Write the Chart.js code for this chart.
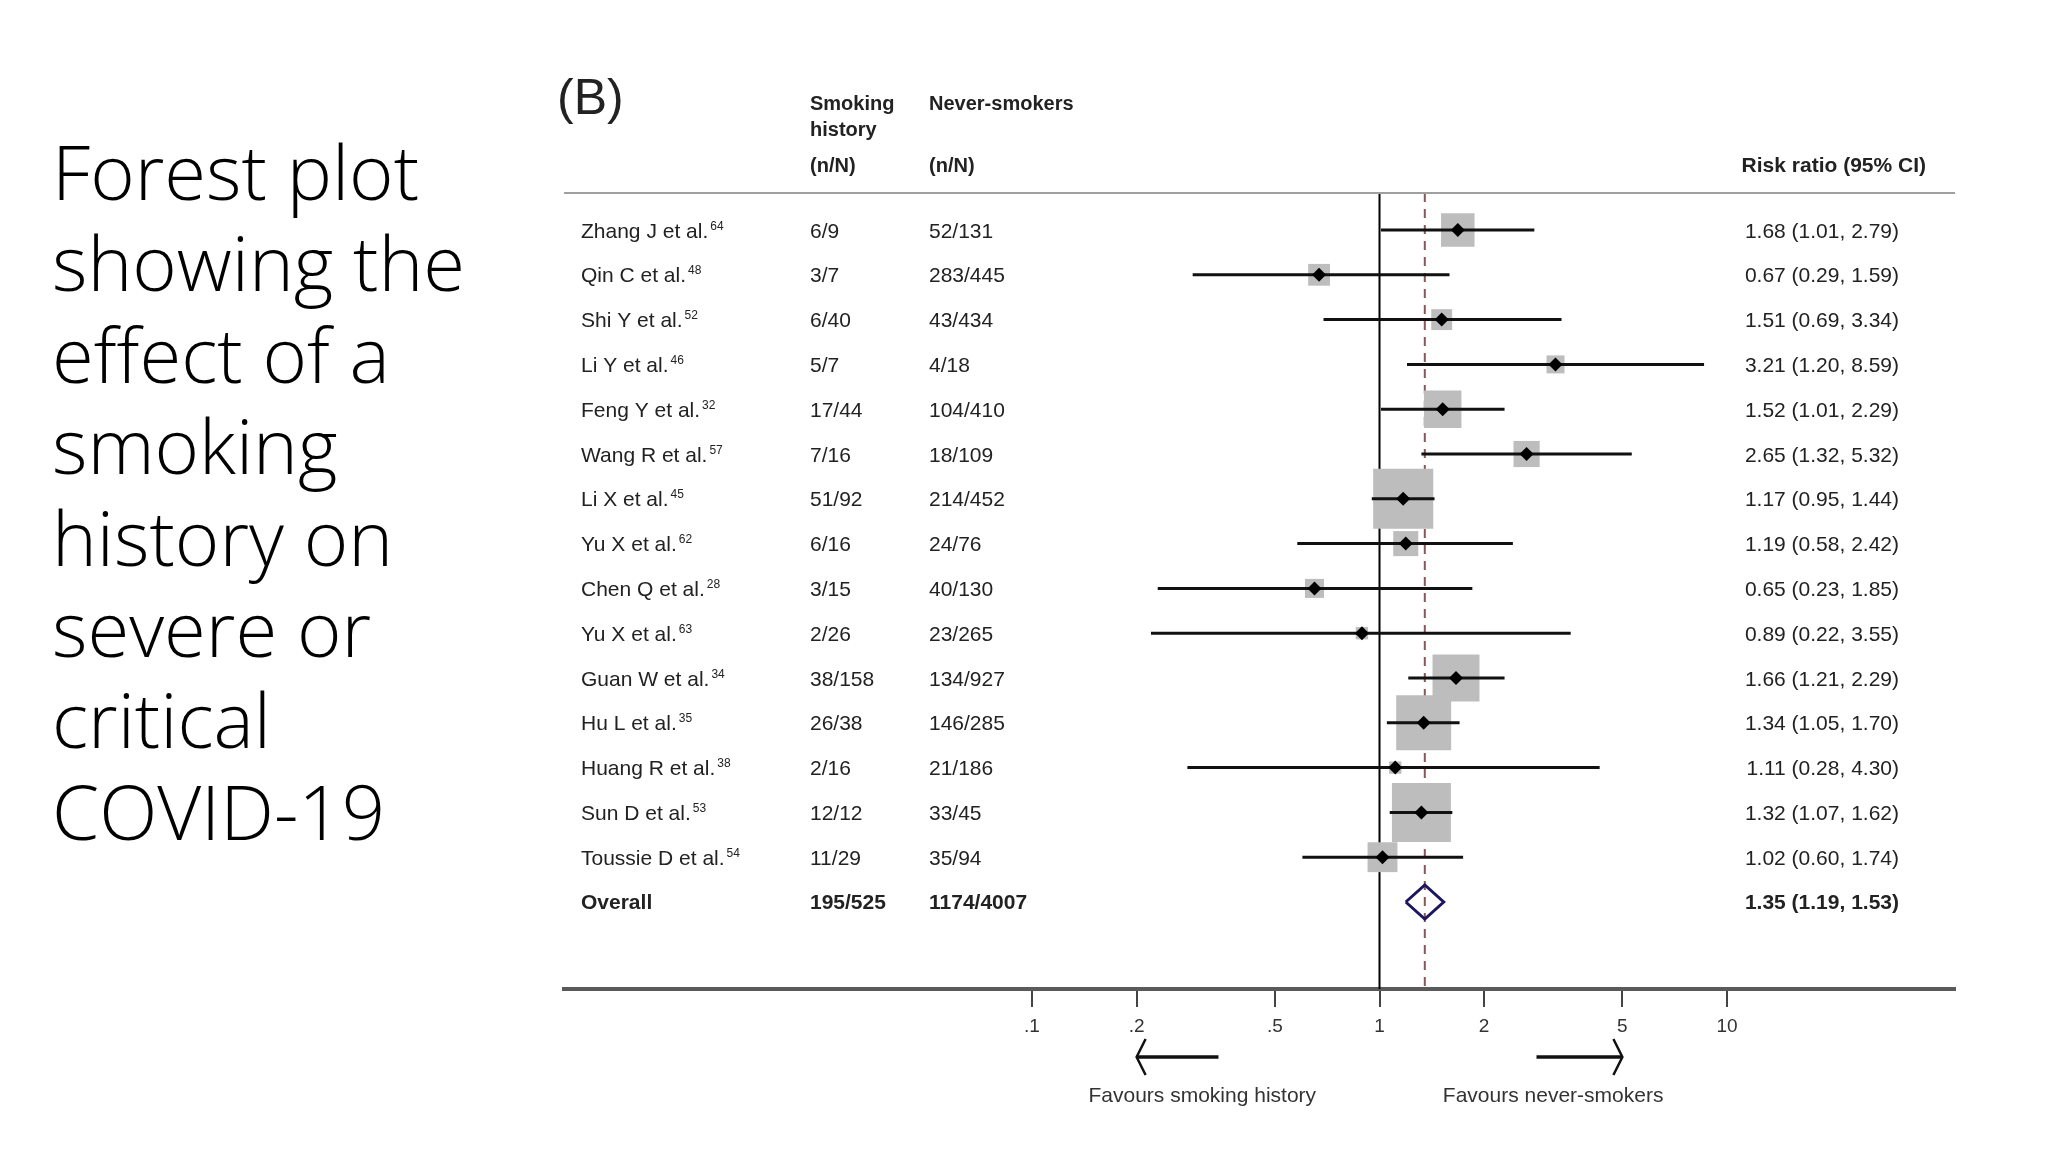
<!DOCTYPE html>
<html>
<head>
<meta charset="utf-8">
<script src="https://cdn.jsdelivr.net/npm/chart.js@4.4.1/dist/chart.umd.min.js"></script>
<style>
  html, body { margin: 0; padding: 0; background: #fff; }
  #wrap { position: relative; width: 2048px; height: 1152px; overflow: hidden; }
  #c { position: absolute; left: 0; top: 0; }
  #side {
    position: absolute; left: 52px; top: 125px;
    font-family: "Open Sans", sans-serif; font-weight: 300;
    font-size: 76px; line-height: 91.4px; color: #000; white-space: nowrap;
  }
</style>
</head>
<body>
<div id="wrap">
  <canvas id="c" width="2048" height="1152"></canvas>
  <div id="side">Forest plot<br>showing the<br>effect of a<br>smoking<br>history on<br>severe or<br>critical<br>COVID-19</div>
</div>
<script>
// ---------------- data ----------------
const studies = ['Zhang J et al.', 'Qin C et al.', 'Shi Y et al.', 'Li Y et al.', 'Feng Y et al.',
  'Wang R et al.', 'Li X et al.', 'Yu X et al.', 'Chen Q et al.', 'Yu X et al.',
  'Guan W et al.', 'Hu L et al.', 'Huang R et al.', 'Sun D et al.', 'Toussie D et al.'];
const refs = ['64', '48', '52', '46', '32', '57', '45', '62', '28', '63', '34', '35', '38', '53', '54'];
const smokingNn = ['6/9', '3/7', '6/40', '5/7', '17/44', '7/16', '51/92', '6/16', '3/15', '2/26',
  '38/158', '26/38', '2/16', '12/12', '11/29'];
const neverNn = ['52/131', '283/445', '43/434', '4/18', '104/410', '18/109', '214/452', '24/76',
  '40/130', '23/265', '134/927', '146/285', '21/186', '33/45', '35/94'];
const riskRatio = [1.68, 0.67, 1.51, 3.21, 1.52, 2.65, 1.17, 1.19, 0.65, 0.89, 1.66, 1.34, 1.11, 1.32, 1.02];
const ciLow = [1.01, 0.29, 0.69, 1.20, 1.01, 1.32, 0.95, 0.58, 0.23, 0.22, 1.21, 1.05, 0.28, 1.07, 0.60];
const ciHigh = [2.79, 1.59, 3.34, 8.59, 2.29, 5.32, 1.44, 2.42, 1.85, 3.55, 2.29, 1.70, 4.30, 1.62, 1.74];
// estimated study weights (%)
const weights = [5.9, 2.5, 2.3, 1.7, 7.4, 3.6, 19.0, 3.3, 1.9, 0.8, 11.6, 15.9, 0.8, 18.3, 4.7];
const overallLabel = 'Overall';
const overallSmoking = '195/525';
const overallNever = '1174/4007';
const overallRR = 1.35, overallLow = 1.19, overallHigh = 1.53;
const xTicks = [0.1, 0.2, 0.5, 1, 2, 5, 10];
const xTickLabels = ['.1', '.2', '.5', '1', '2', '5', '10'];

// ---------------- layout helpers ----------------
const nRows = studies.length;
const overallRow = nRows + 1;
const Y_MIN = 0.174, Y_MAX = 17.942;
const X_MIN = 0.0045, X_MAX = 45.3;
const rowOf = i => i + 1;
const fmt = (r, l, h) => r.toFixed(2) + ' (' + l.toFixed(2) + ', ' + h.toFixed(2) + ')';
const FONT = '"Liberation Sans", Arial, sans-serif';

const datasets = [];
// reference line at RR = 1
datasets.push({
  type: 'line', data: [{x: 1, y: Y_MIN}, {x: 1, y: Y_MAX}],
  borderColor: '#000', borderWidth: 2, pointRadius: 0, order: 30
});
// dashed line at overall estimate
datasets.push({
  type: 'line', data: [{x: overallRR, y: Y_MIN}, {x: overallRR, y: Y_MAX}],
  borderColor: '#8a5656', borderWidth: 2, borderDash: [9, 7], pointRadius: 0, order: 29
});
// weight boxes
datasets.push({
  type: 'scatter',
  data: riskRatio.map((v, i) => ({x: v, y: rowOf(i)})),
  pointStyle: 'rect',
  pointRadius: weights.map(w => Math.sqrt(w * 190) / Math.SQRT2),
  backgroundColor: '#bdbdbd', borderWidth: 0, order: 20
});
// confidence intervals
riskRatio.forEach((v, i) => {
  datasets.push({
    type: 'line', data: [{x: ciLow[i], y: rowOf(i)}, {x: ciHigh[i], y: rowOf(i)}],
    borderColor: '#111', borderWidth: 3, pointRadius: 0, order: 10
  });
});
// point estimates
datasets.push({
  type: 'scatter',
  data: riskRatio.map((v, i) => ({x: v, y: rowOf(i)})),
  pointStyle: 'rectRot', pointRadius: 7,
  backgroundColor: '#000', borderWidth: 0, order: 1
});
// overall diamond
const dh = 0.38;
datasets.push({
  type: 'line',
  data: [{x: overallLow, y: overallRow}, {x: overallRR, y: overallRow - dh},
         {x: overallHigh, y: overallRow}, {x: overallRR, y: overallRow + dh},
         {x: overallLow, y: overallRow}],
  borderColor: '#1c1560', borderWidth: 3, pointRadius: 0, fill: false, tension: 0, order: 2
});

const textPlugin = {
  id: 'forestText',
  afterDraw(chart) {
    const ctx = chart.ctx;
    const ys = chart.scales.y, xs = chart.scales.x;
    const ca = chart.chartArea;
    const py = v => ys.getPixelForValue(v);
    const colName = 581, colSmk = 810, colNev = 929, colRR = 1899, colHdrR = 1926;
    ctx.save();
    // header separator
    ctx.strokeStyle = '#a0a0a0'; ctx.lineWidth = 2;
    ctx.beginPath(); ctx.moveTo(ca.left, ca.top); ctx.lineTo(ca.right, ca.top); ctx.stroke();

    ctx.fillStyle = '#222';
    ctx.textBaseline = 'alphabetic';
    // panel label
    ctx.font = '50px ' + FONT; ctx.textAlign = 'left';
    ctx.fillText('(B)', 557, py(-1.55) - 2);
    // headers
    ctx.font = 'bold 20px ' + FONT;
    ctx.fillText('Smoking', colSmk, py(-1.83) + 7);
    ctx.fillText('history', colSmk, py(-1.25) + 7);
    ctx.fillText('(n/N)', colSmk, py(-0.45) + 7);
    ctx.fillText('Never-smokers', colNev, py(-1.83) + 7);
    ctx.fillText('(n/N)', colNev, py(-0.45) + 7);
    ctx.textAlign = 'right';
    ctx.font = 'bold 21px ' + FONT;
    ctx.fillText('Risk ratio (95% CI)', colHdrR, py(-0.45) + 7);

    // rows
    studies.forEach((s, i) => {
      const y = py(rowOf(i)) + 7.5;
      ctx.textAlign = 'left';
      ctx.font = '21px ' + FONT;
      ctx.fillText(s, colName, y);
      const w = ctx.measureText(s).width;
      ctx.font = '12px ' + FONT;
      ctx.fillText(refs[i], colName + w + 2, y - 8);
      ctx.font = '21px ' + FONT;
      ctx.fillText(smokingNn[i], colSmk, y);
      ctx.fillText(neverNn[i], colNev, y);
      ctx.textAlign = 'right';
      ctx.fillText(fmt(riskRatio[i], ciLow[i], ciHigh[i]), colRR, y);
    });
    // overall row
    const yo = py(overallRow) + 7.5;
    ctx.font = 'bold 21px ' + FONT;
    ctx.textAlign = 'left';
    ctx.fillText(overallLabel, colName, yo);
    ctx.fillText(overallSmoking, colSmk, yo);
    ctx.fillText(overallNever, colNev, yo);
    ctx.textAlign = 'right';
    ctx.fillText(fmt(overallRR, overallLow, overallHigh), colRR, yo);

    // direction arrows
    const ay = 1057;
    ctx.strokeStyle = '#111'; ctx.lineWidth = 3.5;
    const l1 = xs.getPixelForValue(0.2), l2 = xs.getPixelForValue(0.344);
    ctx.beginPath(); ctx.moveTo(l1, ay); ctx.lineTo(l2, ay); ctx.stroke();
    ctx.lineWidth = 2.5;
    ctx.beginPath(); ctx.moveTo(l1 + 9, ay - 18); ctx.lineTo(l1, ay); ctx.lineTo(l1 + 9, ay + 18); ctx.stroke();
    const r1 = xs.getPixelForValue(2.83), r2 = xs.getPixelForValue(5);
    ctx.lineWidth = 3.5;
    ctx.beginPath(); ctx.moveTo(r1, ay); ctx.lineTo(r2, ay); ctx.stroke();
    ctx.lineWidth = 2.5;
    ctx.beginPath(); ctx.moveTo(r2 - 9, ay - 18); ctx.lineTo(r2, ay); ctx.lineTo(r2 - 9, ay + 18); ctx.stroke();

    ctx.font = '21px ' + FONT; ctx.textAlign = 'center'; ctx.fillStyle = '#333';
    ctx.fillText('Favours smoking history', xs.getPixelForValue(0.309), 1102);
    ctx.fillText('Favours never-smokers', xs.getPixelForValue(3.16), 1102);
    ctx.restore();
  }
};

new Chart(document.getElementById('c'), {
  data: { datasets },
  options: {
    responsive: false,
    devicePixelRatio: 1,
    animation: false,
    layout: { padding: { left: 564, right: 93, top: 193, bottom: 0 } },
    plugins: { legend: { display: false }, tooltip: { enabled: false } },
    scales: {
      x: {
        type: 'logarithmic', min: X_MIN, max: X_MAX, position: 'bottom',
        afterBuildTicks: scale => { scale.ticks = xTicks.map(v => ({ value: v })); },
        afterFit: scale => { scale.height = 163; },
        ticks: {
          autoSkip: false, maxRotation: 0, padding: 8, color: '#333',
          font: { family: FONT, size: 19 },
          callback: (value) => { const k = xTicks.indexOf(value); return k >= 0 ? xTickLabels[k] : ''; }
        },
        grid: { drawOnChartArea: false, drawTicks: true, tickLength: 18, color: '#444', lineWidth: 2 },
        border: { display: true, color: '#5a5a5a', width: 4 }
      },
      y: {
        type: 'linear', min: Y_MIN, max: Y_MAX, reverse: true, display: false
      }
    }
  },
  plugins: [textPlugin]
});
</script>
</body>
</html>
